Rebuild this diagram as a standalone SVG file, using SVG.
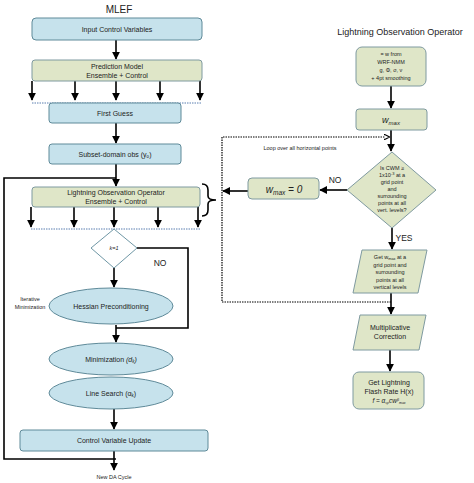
<svg xmlns="http://www.w3.org/2000/svg" width="474" height="483" viewBox="0 0 474 483">
<defs>
<marker id="ah" viewBox="0 0 10 10" refX="9" refY="5" markerWidth="5" markerHeight="5" orient="auto"><path d="M0,0 L10,5 L0,10 z" fill="#000"/></marker>
<marker id="ao" viewBox="0 0 10 10" refX="9" refY="5" markerWidth="5" markerHeight="5" orient="auto"><path d="M0,0 L10,5 L0,10 z" fill="#fff" stroke="#000" stroke-width="2"/></marker>
<style>
text{font-family:"Liberation Sans","DejaVu Sans",sans-serif;fill:#222;text-anchor:middle}
.blue{fill:#c6e2ec;stroke:#5f8a99;stroke-width:1}
.green{fill:#dfe6c8;stroke:#7f9aa0;stroke-width:1}
.wd{fill:#fff;stroke:#6f97a5;stroke-width:1}
.c{fill:none;stroke:#000;stroke-width:1.6}
.d{fill:none;stroke:#000;stroke-width:1.2;stroke-dasharray:1.5,1}
.bd{fill:none;stroke:#5b7fb0;stroke-width:1;stroke-dasharray:1.5,1}
.t{font-size:7px}
.s{font-size:5.5px}
</style>
</defs>
<rect width="474" height="483" fill="#fff"/>

<text x="119" y="13" font-size="10">MLEF</text>
<text x="400" y="35" font-size="9">Lightning Observation Operator</text>

<g id="connectors">
<path class="c" d="M116,40 V59" marker-end="url(#ah)"/>
<path class="c" d="M32,81 V100" marker-end="url(#ah)"/>
<path class="c" d="M75,81 V100" marker-end="url(#ah)"/>
<path class="c" d="M116,81 V100" marker-end="url(#ah)"/>
<path class="c" d="M160,81 V100" marker-end="url(#ah)"/>
<path class="c" d="M200,81 V100" marker-end="url(#ah)"/>
<path class="bd" d="M32,103 H202"/>
<path class="c" d="M116,123 V143" marker-end="url(#ah)"/>
<path class="c" d="M116,164 V186" marker-end="url(#ah)"/>
<path class="c" d="M116,459 H4 V178 H116"/>
<path class="c" d="M31,207 V227" marker-end="url(#ah)"/>
<path class="c" d="M74,207 V227" marker-end="url(#ah)"/>
<path class="c" d="M114,207 V227" marker-end="url(#ah)"/>
<path class="c" d="M158,207 V227" marker-end="url(#ah)"/>
<path class="c" d="M198,207 V227" marker-end="url(#ah)"/>
<path class="bd" d="M31,229 H200"/>
<path class="c" d="M202,184 Q208,184 208,190 V196 Q208,200 216,200 Q208,200 208,204 V210 Q208,216 202,216"/>
<path class="c" d="M114,268 V287" marker-end="url(#ah)"/>
<path class="c" d="M137,248 H188 V328 H116"/>
<path class="c" d="M116,325 V342" marker-end="url(#ah)"/>
<path class="c" d="M114,409 V429" marker-end="url(#ah)"/>
<path class="c" d="M114,451 V470" marker-end="url(#ah)"/>

<path class="c" d="M391,86 V108" marker-end="url(#ah)"/>
<path class="d" d="M391,302 H222 V137 H389" marker-end="url(#ao)"/>
<path class="c" d="M391,130 V151" marker-end="url(#ah)"/>
<path class="c" d="M347,190 H320" marker-end="url(#ah)"/>
<path class="c" d="M248,191 H223" marker-end="url(#ah)"/>
<path class="c" d="M392,228 V249" marker-end="url(#ah)"/>
<path class="c" d="M391,293 V314" marker-end="url(#ah)"/>
<path class="c" d="M390,350 V371" marker-end="url(#ah)"/>
</g>

<g id="input"><rect class="blue" x="32" y="18" width="170" height="22" rx="4"/><text class="t" x="117" y="31.5">Input Control Variables</text></g>
<g id="prediction"><rect class="green" x="32" y="60" width="170" height="21" rx="3"/><text class="t" x="117" y="68.5">Prediction Model</text><text class="t" x="117" y="77.5">Ensemble + Control</text></g>
<g id="firstguess"><rect class="blue" x="49" y="103" width="132" height="20" rx="3"/><text class="t" x="115" y="115.5">First Guess</text></g>
<g id="subset"><rect class="blue" x="49" y="144" width="132" height="20" rx="3"/><text class="t" x="115" y="156.5">Subset-domain obs (y<tspan font-size="4.5" dy="1.5">o</tspan><tspan dy="-1.5">)</tspan></text></g>
<g id="lightning-op"><rect class="green" x="32" y="187" width="168" height="20" rx="3"/><text class="t" x="116" y="195">Lightning Observation Operator</text><text class="t" x="116" y="204">Ensemble + Control</text></g>
<g id="k1"><polygon class="wd" points="114,229 137,248 114,268 91,248"/><text class="s" x="114" y="250" font-style="italic" font-family="Liberation Serif,serif">k=1</text></g>
<text x="160" y="266" font-size="8.5">NO</text>
<g id="iter"><text class="s" x="30" y="301">Iterative</text><text class="s" x="30" y="309">Minimization</text></g>
<g id="hessian"><ellipse class="blue" cx="111" cy="306" rx="62" ry="18"/><text class="t" x="111" y="308.5">Hessian Preconditioning</text></g>
<g id="minimization"><ellipse class="blue" cx="111" cy="359" rx="62" ry="16"/><text class="t" x="111" y="361.5">Minimization <tspan font-style="italic">(d<tspan font-size="4.5" dy="1.5">k</tspan><tspan dy="-1.5">)</tspan></tspan></text></g>
<g id="linesearch"><ellipse class="blue" cx="111" cy="393" rx="62" ry="16"/><text class="t" x="111" y="395.5">Line Search (α<tspan font-size="4.5" dy="1.5">k</tspan><tspan dy="-1.5">)</tspan></text></g>
<g id="update"><rect class="blue" x="20" y="430" width="188" height="21" rx="3"/><text class="t" x="114" y="443">Control Variable Update</text></g>
<g id="newda"><text class="s" x="114" y="479">New DA Cycle</text></g>

<g id="wrf"><rect class="green" x="356" y="47" width="70" height="39" rx="6"/><text class="s" x="391" y="56">= w from</text><text class="s" x="391" y="64">WRF-NMM</text><text class="s" x="391" y="72" font-family="Liberation Serif,serif">g, Φ, σ, ν</text><text class="s" x="391" y="80">+ 4pt smoothing</text></g>
<g id="wmax"><rect class="green" x="356" y="109" width="71" height="21" rx="3"/><text x="391" y="123" font-size="9" font-style="italic">w<tspan font-size="6" dy="2">max</tspan></text></g>
<text class="s" x="300" y="150">Loop over all horizontal points</text>
<g id="cwm"><polygon class="green" points="392,152 436,190 392,228 347,190"/>
<text class="s" x="392" y="170">Is CWM ≥</text><text class="s" x="392" y="177">1x10<tspan font-size="4" dy="-2">-3</tspan><tspan dy="2"> at a</tspan></text><text class="s" x="392" y="184">grid point</text><text class="s" x="392" y="191">and</text><text class="s" x="392" y="198">surrounding</text><text class="s" x="392" y="205">points at all</text><text class="s" x="392" y="212">vert. levels?</text></g>
<text x="335" y="183" font-size="8.5">NO</text>
<g id="wmax0"><rect class="green" x="248" y="178" width="71" height="21" rx="4"/><text x="284" y="193" font-size="10" font-style="italic">w<tspan font-size="6.5" dy="2">max</tspan><tspan dy="-2"> = 0</tspan></text></g>
<text x="404" y="241" font-size="8.5">YES</text>
<g id="getw"><polygon class="green" points="362,250 427,250 418,293 353,293"/>
<text class="s" x="390" y="259">Get w<tspan font-size="3.8" dy="1">max</tspan><tspan dy="-1"> at a</tspan></text><text class="s" x="390" y="266.5">grid point and</text><text class="s" x="390" y="274">surrounding</text><text class="s" x="390" y="281.5">points at all</text><text class="s" x="390" y="289">vertical levels</text></g>
<g id="mult"><polygon class="green" points="360,315 426,315 419,350 353,350"/><text class="t" x="390" y="330">Multiplicative</text><text class="t" x="390" y="339">Correction</text></g>
<g id="flash"><rect class="green" x="353" y="372" width="71" height="37" rx="6"/><text class="t" x="389" y="385">Get Lightning</text><text class="t" x="389" y="394">Flash Rate H(x)</text><text x="389" y="403" font-size="6.5" font-style="italic" font-family="Liberation Serif,serif">f = α<tspan font-size="3.5" dy="1">sp</tspan><tspan dy="-1">cw</tspan><tspan font-size="3.5" dy="-2.5">β</tspan><tspan font-size="3.5" dy="3.5">max</tspan></text></g>
</svg>
